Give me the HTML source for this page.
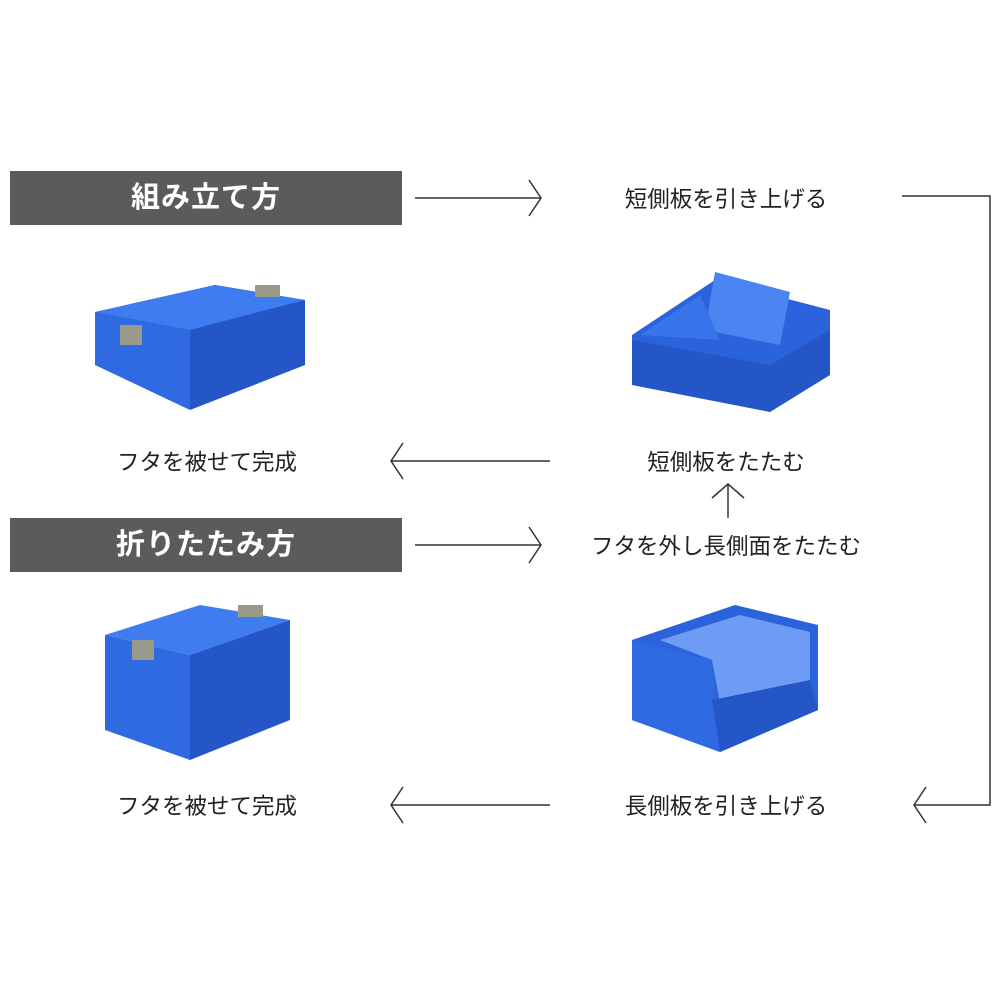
<!DOCTYPE html>
<html><head><meta charset="utf-8">
<style>
body{margin:0;background:#fff;width:1000px;height:1000px;overflow:hidden;position:relative;font-family:"Liberation Sans","Noto Sans CJK JP",sans-serif;}
.bar{position:absolute;left:10px;width:392px;height:54px;background:#5b5b5b;color:#fff;font-size:29px;font-weight:bold;text-align:center;line-height:54px;letter-spacing:1px;}
.t{position:absolute;font-size:22.5px;color:#222;transform:translate(-50%,-50%);white-space:nowrap;}
svg{position:absolute;left:0;top:0;}
</style></head><body>
<div class="bar" style="top:171px">組み立て方</div>
<div class="bar" style="top:518px">折りたたみ方</div>
<div class="t" style="left:726px;top:198px">短側板を引き上げる</div>
<div class="t" style="left:207px;top:461px">フタを被せて完成</div>
<div class="t" style="left:726px;top:461px">短側板をたたむ</div>
<div class="t" style="left:726px;top:545px">フタを外し長側面をたたむ</div>
<div class="t" style="left:207px;top:805px">フタを被せて完成</div>
<div class="t" style="left:726px;top:805px">長側板を引き上げる</div>
<svg width="1000" height="1000" viewBox="0 0 1000 1000">
<g fill="none" stroke="#333" stroke-width="1.5">
<path d="M415 198H541M529 180L541 198L529 216"/>
<path d="M415 545H541M529 527L541 545L529 563"/>
<path d="M550 461H391M403 443L391 461L403 479"/>
<path d="M550 805H391M403 787L391 805L403 823"/>
<path d="M728 518V484M712 498L728 484L744 498"/>
<path d="M902 196H990V805H914M926 787L914 805L926 823"/>
</g>
<g>
<polygon points="95,312 215,285 305,300 305,345 190,380 95,345" fill="#2a63dc"/>
<polygon points="95,312 215,285 305,300 190,330" fill="#3f7cf0"/>
<polygon points="190,330 305,300 305,365 190,410" fill="#2456c8"/>
<polygon points="95,312 190,330 190,410 95,365" fill="#2f6ae2"/>
<rect x="120" y="325" width="22" height="20" fill="#9a9a8a"/>
<rect x="255" y="285" width="25" height="12" fill="#9a9a8a"/>
</g>
<g>
<polygon points="632,335 715,280 830,310 830,370 770,412 632,380" fill="#2a63dc"/>
<polygon points="715,272 790,292 780,345 705,330" fill="#4a85f2"/>
<polygon points="632,340 770,365 830,330 830,375 770,412 632,385" fill="#2456c8"/>
<polygon points="640,335 700,295 720,340" fill="#3a74ea"/>
</g>
<g>
<polygon points="105,635 200,605 290,620 190,655" fill="#3f7cf0"/>
<polygon points="105,635 190,655 190,760 105,730" fill="#2f6ae2"/>
<polygon points="190,655 290,620 290,720 190,760" fill="#2456c8"/>
<rect x="132" y="640" width="22" height="20" fill="#9a9a8a"/>
<rect x="238" y="605" width="25" height="12" fill="#9a9a8a"/>
</g>
<g>
<polygon points="632,640 735,605 818,625 818,710 720,752 632,720" fill="#2a63dc"/>
<polygon points="660,640 740,615 810,632 810,700 725,730 712,660" fill="#6e9cf4"/>
<polygon points="632,640 712,660 720,752 632,720" fill="#2f6ae2"/>
<polygon points="712,700 810,680 818,710 720,752" fill="#2456c8"/>
</g>
</svg>
</body></html>
